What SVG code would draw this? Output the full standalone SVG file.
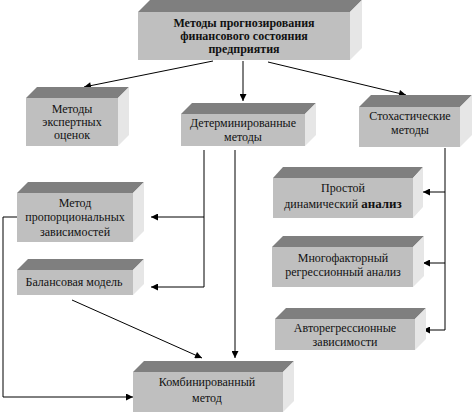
<svg xmlns="http://www.w3.org/2000/svg" width="474" height="414" viewBox="0 0 474 414">
<style>
.front{fill:#bfbfbf}
.top{fill:#7f7f7f}
.side{fill:#e6e6e6}
text{font-family:"Liberation Serif","DejaVu Serif","Times New Roman",serif;font-size:12px;fill:#111;text-anchor:middle}
.b{font-weight:bold}
.ln{stroke:#000;stroke-width:1;fill:none}
</style>
<defs>
<marker id="ah" viewBox="0 0 10 10" refX="10" refY="5" markerWidth="9" markerHeight="7" orient="auto" markerUnits="userSpaceOnUse"><path d="M0,0 L10,5 L0,10 z" fill="#000"/></marker>
</defs>
<rect width="474" height="414" fill="#fff"/>
<g id="connectors">
<line class="ln" x1="213" y1="61" x2="84" y2="87" marker-end="url(#ah)"/>
<line class="ln" x1="243" y1="61" x2="243" y2="101" marker-end="url(#ah)"/>
<line class="ln" x1="268" y1="62" x2="406" y2="95" marker-end="url(#ah)"/>
<polyline class="ln" points="204,150 204,287 151,287" marker-end="url(#ah)"/>
<line class="ln" x1="204" y1="217" x2="151" y2="217" marker-end="url(#ah)"/>
<line class="ln" x1="235" y1="150" x2="235" y2="358" marker-end="url(#ah)"/>
<line class="ln" x1="72" y1="300" x2="202" y2="358" marker-end="url(#ah)"/>
<polyline class="ln" points="17,217 3,217 3,397 133,397" marker-end="url(#ah)"/>
<polyline class="ln" points="445,148 445,330 423,330" marker-end="url(#ah)"/>
<line class="ln" x1="445" y1="192" x2="423" y2="192" marker-end="url(#ah)"/>
<line class="ln" x1="445" y1="263" x2="423" y2="263" marker-end="url(#ah)"/>
</g>
<g id="root">
<polygon class="top" points="138,12 150,0 362,0 350,12"/>
<polygon class="side" points="350,12 362,0 362,48 350,60"/>
<rect class="front" x="138" y="12" width="212" height="48"/>
<text class="b" x="244" y="27">Методы прогнозирования</text>
<text class="b" x="244" y="40">финансового состояния</text>
<text class="b" x="244" y="53">предприятия</text>
</g>
<g id="experts">
<polygon class="top" points="26,98 37,87 129,87 118,98"/>
<polygon class="side" points="118,98 129,87 129,135 118,146"/>
<rect class="front" x="26" y="98" width="92" height="48"/>
<text x="72" y="113">Методы</text>
<text x="72" y="126">экспертных</text>
<text x="72" y="139">оценок</text>
</g>
<g id="determined">
<polygon class="top" points="181,114 192,103 316,103 305,114"/>
<polygon class="side" points="305,114 316,103 316,135 305,146"/>
<rect class="front" x="181" y="114" width="124" height="32"/>
<text x="243" y="127">Детерминированные</text>
<text x="243" y="141">методы</text>
</g>
<g id="stochastic">
<polygon class="top" points="359,107 371,95 472,95 460,107"/>
<polygon class="side" points="460,107 472,95 472,135 460,147"/>
<rect class="front" x="359" y="107" width="101" height="40"/>
<text x="410" y="120">Стохастические</text>
<text x="410" y="134">методы</text>
</g>
<g id="proportional">
<polygon class="top" points="17,193 28,182 144,182 133,193"/>
<polygon class="side" points="133,193 144,182 144,231 133,242"/>
<rect class="front" x="17" y="193" width="116" height="49"/>
<text x="75" y="207">Метод</text>
<text x="75" y="221">пропорциональных</text>
<text x="75" y="236">зависимостей</text>
</g>
<g id="balance">
<polygon class="top" points="17,270 28,259 144,259 133,270"/>
<polygon class="side" points="133,270 144,259 144,284 133,295"/>
<rect class="front" x="17" y="270" width="116" height="25"/>
<text x="74" y="286">Балансовая модель</text>
</g>
<g id="simple">
<polygon class="top" points="273,178 283,167 423,167 413,178"/>
<polygon class="side" points="413,178 423,167 423,207 413,218"/>
<rect class="front" x="273" y="178" width="140" height="40"/>
<text x="343" y="192">Простой</text>
<text x="343" y="208">динамический <tspan class="b" font-size="13">анализ</tspan></text>
</g>
<g id="multifactor">
<polygon class="top" points="272,247 283,236 424,236 413,247"/>
<polygon class="side" points="413,247 424,236 424,276 413,287"/>
<rect class="front" x="272" y="247" width="141" height="40"/>
<text x="343" y="262">Многофакторный</text>
<text x="343" y="276">регрессионный анализ</text>
</g>
<g id="autoregressive">
<polygon class="top" points="275,319 286,308 426,308 415,319"/>
<polygon class="side" points="415,319 426,308 426,339 415,350"/>
<rect class="front" x="275" y="319" width="140" height="31"/>
<text x="345" y="332">Авторегрессионные</text>
<text x="345" y="346">зависимости</text>
</g>
<g id="combined">
<polygon class="top" points="133,372 144,361 294,361 283,372"/>
<polygon class="side" points="283,372 294,361 294,401 283,412"/>
<rect class="front" x="133" y="372" width="150" height="40"/>
<text x="207" y="386">Комбинированный</text>
<text x="207" y="402">метод</text>
</g>
</svg>
